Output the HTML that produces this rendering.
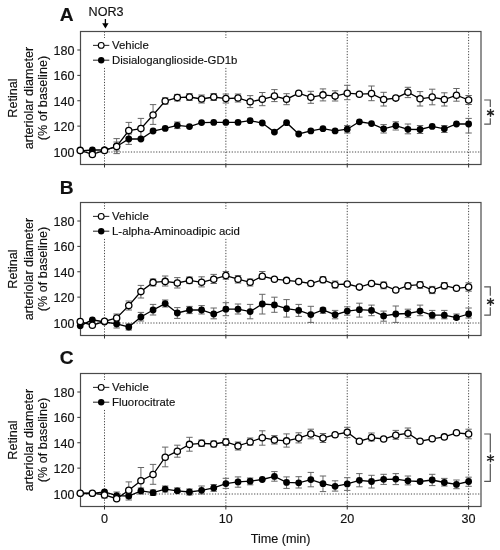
<!DOCTYPE html>
<html><head><meta charset="utf-8"><style>
html,body{margin:0;padding:0;background:#fff;}
svg{display:block;will-change:transform;}
text{font-family:"Liberation Sans",sans-serif;fill:#111;stroke:#111;stroke-width:0.15px;}
.tk{font-size:12.6px;}
.lg{font-size:11.4px;}
.yl{font-size:12.65px;}
.lt{font-size:19.2px;font-weight:bold;}
.ast{font-size:17px;}
</style></head><body>
<svg width="500" height="550" viewBox="0 0 500 550">
<rect x="80.5" y="31.5" width="400.5" height="133" fill="none" stroke="#4a4a4a" stroke-width="1.2"/>
<line x1="104.5" y1="31.5" x2="104.5" y2="164.5" stroke="#444" stroke-width="1" stroke-dasharray="1.2 1.6"/>
<line x1="104.5" y1="164.5" x2="104.5" y2="167.5" stroke="#333" stroke-width="1"/>
<line x1="225.87" y1="31.5" x2="225.87" y2="164.5" stroke="#444" stroke-width="1" stroke-dasharray="1.2 1.6"/>
<line x1="225.87" y1="164.5" x2="225.87" y2="167.5" stroke="#333" stroke-width="1"/>
<line x1="347.24" y1="31.5" x2="347.24" y2="164.5" stroke="#444" stroke-width="1" stroke-dasharray="1.2 1.6"/>
<line x1="347.24" y1="164.5" x2="347.24" y2="167.5" stroke="#333" stroke-width="1"/>
<line x1="468.61" y1="31.5" x2="468.61" y2="164.5" stroke="#444" stroke-width="1" stroke-dasharray="1.2 1.6"/>
<line x1="468.61" y1="164.5" x2="468.61" y2="167.5" stroke="#333" stroke-width="1"/>
<line x1="80.5" y1="152" x2="481" y2="152" stroke="#444" stroke-width="1" stroke-dasharray="1.2 1.6"/>
<rect x="90" y="38" width="151" height="29.5" fill="#fff"/>
<line x1="77.3" y1="151.5" x2="80.5" y2="151.5" stroke="#333" stroke-width="1"/>
<text x="74.6" y="156.6" text-anchor="end" class="tk">100</text>
<line x1="77.3" y1="126.12" x2="80.5" y2="126.12" stroke="#333" stroke-width="1"/>
<text x="74.6" y="131.22" text-anchor="end" class="tk">120</text>
<line x1="77.3" y1="100.75" x2="80.5" y2="100.75" stroke="#333" stroke-width="1"/>
<text x="74.6" y="105.85" text-anchor="end" class="tk">140</text>
<line x1="77.3" y1="75.38" x2="80.5" y2="75.38" stroke="#333" stroke-width="1"/>
<text x="74.6" y="80.47" text-anchor="end" class="tk">160</text>
<line x1="77.3" y1="50" x2="80.5" y2="50" stroke="#333" stroke-width="1"/>
<text x="74.6" y="55.1" text-anchor="end" class="tk">180</text>
<path d="M116.64 142V151M113.44 142H119.84M113.44 151H119.84M128.77 134V144.4M125.57 134H131.97M125.57 144.4H131.97M177.32 122V128.6M174.12 122H180.52M174.12 128.6H180.52M347.24 125.6V133M344.04 125.6H350.44M344.04 133H350.44M383.65 124.6V133M380.45 124.6H386.85M380.45 133H386.85M395.79 121.8V130M392.59 121.8H398.99M392.59 130H398.99M407.93 124V133.8M404.73 124H411.12M404.73 133.8H411.12M420.06 125.5V133.5M416.86 125.5H423.26M416.86 133.5H423.26M444.34 125.5V132.5M441.14 125.5H447.54M441.14 132.5H447.54M468.61 118.4V133M465.41 118.4H471.81M465.41 133H471.81M116.64 138.6V153.6M113.44 138.6H119.84M113.44 153.6H119.84M128.77 122.4V138M125.57 122.4H131.97M125.57 138H131.97M140.91 118.4V138M137.71 118.4H144.11M137.71 138H144.11M153.05 104.6V124.4M149.85 104.6H156.25M149.85 124.4H156.25M165.19 97.8V104.2M161.99 97.8H168.38M161.99 104.2H168.38M177.32 94.4V101M174.12 94.4H180.52M174.12 101H180.52M189.46 93.6V100.5M186.26 93.6H192.66M186.26 100.5H192.66M201.6 95V103M198.4 95H204.8M198.4 103H204.8M213.73 93.6V100.5M210.53 93.6H216.93M210.53 100.5H216.93M225.87 94V103M222.67 94H229.07M222.67 103H229.07M238.01 94V102M234.81 94H241.21M234.81 102H241.21M250.14 95.6V107.6M246.94 95.6H253.34M246.94 107.6H253.34M262.28 92.5V105.7M259.08 92.5H265.48M259.08 105.7H265.48M274.42 89.6V101.6M271.22 89.6H277.62M271.22 101.6H277.62M286.56 93.7V104.7M283.36 93.7H289.75M283.36 104.7H289.75M310.83 91.3V103.3M307.63 91.3H314.03M307.63 103.3H314.03M322.97 88.9V100.9M319.77 88.9H326.17M319.77 100.9H326.17M335.1 90.8V101M331.9 90.8H338.3M331.9 101H338.3M347.24 85.3V99.7M344.04 85.3H350.44M344.04 99.7H350.44M371.51 86V100.7M368.31 86H374.71M368.31 100.7H374.71M383.65 92.3V106M380.45 92.3H386.85M380.45 106H386.85M407.93 87.3V97.6M404.73 87.3H411.12M404.73 97.6H411.12M420.06 91.6V106M416.86 91.6H423.26M416.86 106H423.26M432.2 89.2V104.8M429 89.2H435.4M429 104.8H435.4M444.34 92.8V106M441.14 92.8H447.54M441.14 106H447.54M456.47 88.5V101.2M453.27 88.5H459.67M453.27 101.2H459.67M468.61 95.5V104.5M465.41 95.5H471.81M465.41 104.5H471.81" stroke="#666" stroke-width="1" fill="none"/>
<polyline points="80.23,150.8 92.36,150 104.5,150 116.64,146.5 128.77,139 140.91,139 153.05,131 165.19,128.4 177.32,125.3 189.46,126.6 201.6,122.6 213.73,122.4 225.87,122.4 238.01,122.4 250.14,120.7 262.28,123 274.42,132.1 286.56,122.7 298.69,134 310.83,130.9 322.97,128.7 335.1,130.9 347.24,129.2 359.38,121.8 371.51,123.6 383.65,128.8 395.79,125.7 407.93,129.3 420.06,129.5 432.2,126.4 444.34,128.8 456.47,124 468.61,124" fill="none" stroke="#000" stroke-width="1.3"/>
<polyline points="80.23,150.4 92.36,154.4 104.5,150.4 116.64,146.4 128.77,130.6 140.91,128.6 153.05,115 165.19,101 177.32,97.6 189.46,97 201.6,99 213.73,97 225.87,98.6 238.01,98 250.14,101.8 262.28,99.3 274.42,96.1 286.56,99.2 298.69,93.2 310.83,97.3 322.97,94.9 335.1,96.1 347.24,93.2 359.38,94.2 371.51,93.6 383.65,99.5 395.79,98.1 407.93,92.3 420.06,98.8 432.2,97.1 444.34,99.5 456.47,95.2 468.61,100" fill="none" stroke="#000" stroke-width="1.3"/>
<circle cx="80.23" cy="150.8" r="3.4" fill="#000"/>
<circle cx="92.36" cy="150" r="3.4" fill="#000"/>
<circle cx="104.5" cy="150" r="3.4" fill="#000"/>
<circle cx="116.64" cy="146.5" r="3.4" fill="#000"/>
<circle cx="128.77" cy="139" r="3.4" fill="#000"/>
<circle cx="140.91" cy="139" r="3.4" fill="#000"/>
<circle cx="153.05" cy="131" r="3.4" fill="#000"/>
<circle cx="165.19" cy="128.4" r="3.4" fill="#000"/>
<circle cx="177.32" cy="125.3" r="3.4" fill="#000"/>
<circle cx="189.46" cy="126.6" r="3.4" fill="#000"/>
<circle cx="201.6" cy="122.6" r="3.4" fill="#000"/>
<circle cx="213.73" cy="122.4" r="3.4" fill="#000"/>
<circle cx="225.87" cy="122.4" r="3.4" fill="#000"/>
<circle cx="238.01" cy="122.4" r="3.4" fill="#000"/>
<circle cx="250.14" cy="120.7" r="3.4" fill="#000"/>
<circle cx="262.28" cy="123" r="3.4" fill="#000"/>
<circle cx="274.42" cy="132.1" r="3.4" fill="#000"/>
<circle cx="286.56" cy="122.7" r="3.4" fill="#000"/>
<circle cx="298.69" cy="134" r="3.4" fill="#000"/>
<circle cx="310.83" cy="130.9" r="3.4" fill="#000"/>
<circle cx="322.97" cy="128.7" r="3.4" fill="#000"/>
<circle cx="335.1" cy="130.9" r="3.4" fill="#000"/>
<circle cx="347.24" cy="129.2" r="3.4" fill="#000"/>
<circle cx="359.38" cy="121.8" r="3.4" fill="#000"/>
<circle cx="371.51" cy="123.6" r="3.4" fill="#000"/>
<circle cx="383.65" cy="128.8" r="3.4" fill="#000"/>
<circle cx="395.79" cy="125.7" r="3.4" fill="#000"/>
<circle cx="407.93" cy="129.3" r="3.4" fill="#000"/>
<circle cx="420.06" cy="129.5" r="3.4" fill="#000"/>
<circle cx="432.2" cy="126.4" r="3.4" fill="#000"/>
<circle cx="444.34" cy="128.8" r="3.4" fill="#000"/>
<circle cx="456.47" cy="124" r="3.4" fill="#000"/>
<circle cx="468.61" cy="124" r="3.4" fill="#000"/>
<circle cx="80.23" cy="150.4" r="3.15" fill="#fff" stroke="#000" stroke-width="1.3"/>
<circle cx="92.36" cy="154.4" r="3.15" fill="#fff" stroke="#000" stroke-width="1.3"/>
<circle cx="104.5" cy="150.4" r="3.15" fill="#fff" stroke="#000" stroke-width="1.3"/>
<circle cx="116.64" cy="146.4" r="3.15" fill="#fff" stroke="#000" stroke-width="1.3"/>
<circle cx="128.77" cy="130.6" r="3.15" fill="#fff" stroke="#000" stroke-width="1.3"/>
<circle cx="140.91" cy="128.6" r="3.15" fill="#fff" stroke="#000" stroke-width="1.3"/>
<circle cx="153.05" cy="115" r="3.15" fill="#fff" stroke="#000" stroke-width="1.3"/>
<circle cx="165.19" cy="101" r="3.15" fill="#fff" stroke="#000" stroke-width="1.3"/>
<circle cx="177.32" cy="97.6" r="3.15" fill="#fff" stroke="#000" stroke-width="1.3"/>
<circle cx="189.46" cy="97" r="3.15" fill="#fff" stroke="#000" stroke-width="1.3"/>
<circle cx="201.6" cy="99" r="3.15" fill="#fff" stroke="#000" stroke-width="1.3"/>
<circle cx="213.73" cy="97" r="3.15" fill="#fff" stroke="#000" stroke-width="1.3"/>
<circle cx="225.87" cy="98.6" r="3.15" fill="#fff" stroke="#000" stroke-width="1.3"/>
<circle cx="238.01" cy="98" r="3.15" fill="#fff" stroke="#000" stroke-width="1.3"/>
<circle cx="250.14" cy="101.8" r="3.15" fill="#fff" stroke="#000" stroke-width="1.3"/>
<circle cx="262.28" cy="99.3" r="3.15" fill="#fff" stroke="#000" stroke-width="1.3"/>
<circle cx="274.42" cy="96.1" r="3.15" fill="#fff" stroke="#000" stroke-width="1.3"/>
<circle cx="286.56" cy="99.2" r="3.15" fill="#fff" stroke="#000" stroke-width="1.3"/>
<circle cx="298.69" cy="93.2" r="3.15" fill="#fff" stroke="#000" stroke-width="1.3"/>
<circle cx="310.83" cy="97.3" r="3.15" fill="#fff" stroke="#000" stroke-width="1.3"/>
<circle cx="322.97" cy="94.9" r="3.15" fill="#fff" stroke="#000" stroke-width="1.3"/>
<circle cx="335.1" cy="96.1" r="3.15" fill="#fff" stroke="#000" stroke-width="1.3"/>
<circle cx="347.24" cy="93.2" r="3.15" fill="#fff" stroke="#000" stroke-width="1.3"/>
<circle cx="359.38" cy="94.2" r="3.15" fill="#fff" stroke="#000" stroke-width="1.3"/>
<circle cx="371.51" cy="93.6" r="3.15" fill="#fff" stroke="#000" stroke-width="1.3"/>
<circle cx="383.65" cy="99.5" r="3.15" fill="#fff" stroke="#000" stroke-width="1.3"/>
<circle cx="395.79" cy="98.1" r="3.15" fill="#fff" stroke="#000" stroke-width="1.3"/>
<circle cx="407.93" cy="92.3" r="3.15" fill="#fff" stroke="#000" stroke-width="1.3"/>
<circle cx="420.06" cy="98.8" r="3.15" fill="#fff" stroke="#000" stroke-width="1.3"/>
<circle cx="432.2" cy="97.1" r="3.15" fill="#fff" stroke="#000" stroke-width="1.3"/>
<circle cx="444.34" cy="99.5" r="3.15" fill="#fff" stroke="#000" stroke-width="1.3"/>
<circle cx="456.47" cy="95.2" r="3.15" fill="#fff" stroke="#000" stroke-width="1.3"/>
<circle cx="468.61" cy="100" r="3.15" fill="#fff" stroke="#000" stroke-width="1.3"/>
<line x1="93" y1="45.4" x2="109.3" y2="45.4" stroke="#333" stroke-width="1.1"/>
<circle cx="101.2" cy="45.4" r="2.9" fill="#fff" stroke="#000" stroke-width="1.1"/>
<text x="112" y="48.8" class="lg">Vehicle</text>
<line x1="93" y1="60.2" x2="109.3" y2="60.2" stroke="#333" stroke-width="1.1"/>
<circle cx="101.2" cy="60.2" r="3.2" fill="#000"/>
<text x="112" y="63.6" class="lg">Disialoganglioside-GD1b</text>
<text x="59.8" y="21" class="lt">A</text>
<text transform="translate(17.3 98) rotate(-90)" text-anchor="middle" class="yl">Retinal</text>
<text transform="translate(33.3 98) rotate(-90)" text-anchor="middle" class="yl">arteriolar diameter</text>
<text transform="translate(46.8 98) rotate(-90)" text-anchor="middle" class="yl">(% of baseline)</text>
<path d="M484.2 100H490.3V106.9M490.3 118.3V124.2H484.2" fill="none" stroke="#555" stroke-width="1.2"/>
<path d="M490.5 109.4L490.5 116.2M487.56 111.1L493.44 114.5M493.44 111.1L487.56 114.5" stroke="#222" stroke-width="1.45" stroke-linecap="round" fill="none"/>
<rect x="80.5" y="202.5" width="400.5" height="133" fill="none" stroke="#4a4a4a" stroke-width="1.2"/>
<line x1="104.5" y1="202.5" x2="104.5" y2="335.5" stroke="#444" stroke-width="1" stroke-dasharray="1.2 1.6"/>
<line x1="104.5" y1="335.5" x2="104.5" y2="338.5" stroke="#333" stroke-width="1"/>
<line x1="225.87" y1="202.5" x2="225.87" y2="335.5" stroke="#444" stroke-width="1" stroke-dasharray="1.2 1.6"/>
<line x1="225.87" y1="335.5" x2="225.87" y2="338.5" stroke="#333" stroke-width="1"/>
<line x1="347.24" y1="202.5" x2="347.24" y2="335.5" stroke="#444" stroke-width="1" stroke-dasharray="1.2 1.6"/>
<line x1="347.24" y1="335.5" x2="347.24" y2="338.5" stroke="#333" stroke-width="1"/>
<line x1="468.61" y1="202.5" x2="468.61" y2="335.5" stroke="#444" stroke-width="1" stroke-dasharray="1.2 1.6"/>
<line x1="468.61" y1="335.5" x2="468.61" y2="338.5" stroke="#333" stroke-width="1"/>
<line x1="80.5" y1="323" x2="481" y2="323" stroke="#444" stroke-width="1" stroke-dasharray="1.2 1.6"/>
<rect x="90" y="209" width="153" height="29.5" fill="#fff"/>
<line x1="77.3" y1="322.5" x2="80.5" y2="322.5" stroke="#333" stroke-width="1"/>
<text x="74.6" y="327.6" text-anchor="end" class="tk">100</text>
<line x1="77.3" y1="297.12" x2="80.5" y2="297.12" stroke="#333" stroke-width="1"/>
<text x="74.6" y="302.23" text-anchor="end" class="tk">120</text>
<line x1="77.3" y1="271.75" x2="80.5" y2="271.75" stroke="#333" stroke-width="1"/>
<text x="74.6" y="276.85" text-anchor="end" class="tk">140</text>
<line x1="77.3" y1="246.38" x2="80.5" y2="246.38" stroke="#333" stroke-width="1"/>
<text x="74.6" y="251.47" text-anchor="end" class="tk">160</text>
<line x1="77.3" y1="221" x2="80.5" y2="221" stroke="#333" stroke-width="1"/>
<text x="74.6" y="226.1" text-anchor="end" class="tk">180</text>
<path d="M116.64 320V328M113.44 320H119.84M113.44 328H119.84M128.77 324V330M125.57 324H131.97M125.57 330H131.97M140.91 312.4V321M137.71 312.4H144.11M137.71 321H144.11M153.05 304.4V315M149.85 304.4H156.25M149.85 315H156.25M165.19 300V307M161.99 300H168.38M161.99 307H168.38M177.32 307.6V318.4M174.12 307.6H180.52M174.12 318.4H180.52M189.46 306.4V313.6M186.26 306.4H192.66M186.26 313.6H192.66M201.6 305.6V314M198.4 305.6H204.8M198.4 314H204.8M213.73 308V318.8M210.53 308H216.93M210.53 318.8H216.93M225.87 302.7V315.7M222.67 302.7H229.07M222.67 315.7H229.07M238.01 304V314M234.81 304H241.21M234.81 314H241.21M250.14 304.4V318.8M246.94 304.4H253.34M246.94 318.8H253.34M262.28 294.3V314M259.08 294.3H265.48M259.08 314H265.48M274.42 297.2V312.3M271.22 297.2H277.62M271.22 312.3H277.62M286.56 299.6V317.1M283.36 299.6H289.75M283.36 317.1H289.75M298.69 304.4V316.4M295.49 304.4H301.89M295.49 316.4H301.89M310.83 306.3V322.4M307.63 306.3H314.03M307.63 322.4H314.03M322.97 308V313.3M319.77 308H326.17M319.77 313.3H326.17M335.1 310.4V318.8M331.9 310.4H338.3M331.9 318.8H338.3M347.24 306.8V315.2M344.04 306.8H350.44M344.04 315.2H350.44M359.38 303.2V317.1M356.18 303.2H362.58M356.18 317.1H362.58M371.51 305.1V315.7M368.31 305.1H374.71M368.31 315.7H374.71M383.65 311.1V321.2M380.45 311.1H386.85M380.45 321.2H386.85M395.79 306V322.4M392.59 306H398.99M392.59 322.4H398.99M407.93 309.2V317.6M404.73 309.2H411.12M404.73 317.6H411.12M420.06 305.1V315.7M416.86 305.1H423.26M416.86 315.7H423.26M432.2 310.4V318.8M429 310.4H435.4M429 318.8H435.4M444.34 310.4V318.8M441.14 310.4H447.54M441.14 318.8H447.54M456.47 314V319.5M453.27 314H459.67M453.27 319.5H459.67M468.61 308V318M465.41 308H471.81M465.41 318H471.81M116.64 314V322M113.44 314H119.84M113.44 322H119.84M128.77 301V310M125.57 301H131.97M125.57 310H131.97M140.91 285.4V298M137.71 285.4H144.11M137.71 298H144.11M153.05 279V286M149.85 279H156.25M149.85 286H156.25M165.19 276V286M161.99 276H168.38M161.99 286H168.38M177.32 277.6V288M174.12 277.6H180.52M174.12 288H180.52M189.46 277V283.6M186.26 277H192.66M186.26 283.6H192.66M201.6 276.8V286.9M198.4 276.8H204.8M198.4 286.9H204.8M213.73 274.4V283.5M210.53 274.4H216.93M210.53 283.5H216.93M225.87 271.5V279.2M222.67 271.5H229.07M222.67 279.2H229.07M238.01 275.6V283M234.81 275.6H241.21M234.81 283H241.21M250.14 279V286M246.94 279H253.34M246.94 286H253.34M262.28 271.5V279.2M259.08 271.5H265.48M259.08 279.2H265.48M322.97 276.8V282.8M319.77 276.8H326.17M319.77 282.8H326.17M335.1 281V288M331.9 281H338.3M331.9 288H338.3M383.65 282V288.8M380.45 282H386.85M380.45 288.8H386.85M407.93 282.8V289.3M404.73 282.8H411.12M404.73 289.3H411.12M420.06 281.6V288.3M416.86 281.6H423.26M416.86 288.3H423.26M432.2 286.4V293.6M429 286.4H435.4M429 293.6H435.4M444.34 282.5V289M441.14 282.5H447.54M441.14 289H447.54M468.61 282.8V291.2M465.41 282.8H471.81M465.41 291.2H471.81" stroke="#666" stroke-width="1" fill="none"/>
<polyline points="80.23,325.8 92.36,319.8 104.5,322 116.64,323.9 128.77,327 140.91,317 153.05,310 165.19,303.6 177.32,313 189.46,310 201.6,310 213.73,314 225.87,309.2 238.01,309.2 250.14,311.6 262.28,304 274.42,304.9 286.56,308.7 298.69,310.4 310.83,314.6 322.97,310 335.1,314.7 347.24,311.1 359.38,309.7 371.51,310.4 383.65,315.9 395.79,314 407.93,313.5 420.06,311.1 432.2,315.2 444.34,315.2 456.47,317.6 468.61,314" fill="none" stroke="#000" stroke-width="1.3"/>
<polyline points="80.23,321.6 92.36,325.2 104.5,321.3 116.64,318 128.77,305.6 140.91,291.6 153.05,282.4 165.19,281.4 177.32,283 189.46,280.4 201.6,282.3 213.73,279.2 225.87,275.6 238.01,279.2 250.14,282.3 262.28,276.3 274.42,279.2 286.56,280.4 298.69,281.6 310.83,283.5 322.97,279.7 335.1,284.7 347.24,284 359.38,287.1 371.51,283.5 383.65,285.2 395.79,290 407.93,285.7 420.06,284.7 432.2,290 444.34,285.7 456.47,288.3 468.61,287.1" fill="none" stroke="#000" stroke-width="1.3"/>
<circle cx="80.23" cy="325.8" r="3.4" fill="#000"/>
<circle cx="92.36" cy="319.8" r="3.4" fill="#000"/>
<circle cx="104.5" cy="322" r="3.4" fill="#000"/>
<circle cx="116.64" cy="323.9" r="3.4" fill="#000"/>
<circle cx="128.77" cy="327" r="3.4" fill="#000"/>
<circle cx="140.91" cy="317" r="3.4" fill="#000"/>
<circle cx="153.05" cy="310" r="3.4" fill="#000"/>
<circle cx="165.19" cy="303.6" r="3.4" fill="#000"/>
<circle cx="177.32" cy="313" r="3.4" fill="#000"/>
<circle cx="189.46" cy="310" r="3.4" fill="#000"/>
<circle cx="201.6" cy="310" r="3.4" fill="#000"/>
<circle cx="213.73" cy="314" r="3.4" fill="#000"/>
<circle cx="225.87" cy="309.2" r="3.4" fill="#000"/>
<circle cx="238.01" cy="309.2" r="3.4" fill="#000"/>
<circle cx="250.14" cy="311.6" r="3.4" fill="#000"/>
<circle cx="262.28" cy="304" r="3.4" fill="#000"/>
<circle cx="274.42" cy="304.9" r="3.4" fill="#000"/>
<circle cx="286.56" cy="308.7" r="3.4" fill="#000"/>
<circle cx="298.69" cy="310.4" r="3.4" fill="#000"/>
<circle cx="310.83" cy="314.6" r="3.4" fill="#000"/>
<circle cx="322.97" cy="310" r="3.4" fill="#000"/>
<circle cx="335.1" cy="314.7" r="3.4" fill="#000"/>
<circle cx="347.24" cy="311.1" r="3.4" fill="#000"/>
<circle cx="359.38" cy="309.7" r="3.4" fill="#000"/>
<circle cx="371.51" cy="310.4" r="3.4" fill="#000"/>
<circle cx="383.65" cy="315.9" r="3.4" fill="#000"/>
<circle cx="395.79" cy="314" r="3.4" fill="#000"/>
<circle cx="407.93" cy="313.5" r="3.4" fill="#000"/>
<circle cx="420.06" cy="311.1" r="3.4" fill="#000"/>
<circle cx="432.2" cy="315.2" r="3.4" fill="#000"/>
<circle cx="444.34" cy="315.2" r="3.4" fill="#000"/>
<circle cx="456.47" cy="317.6" r="3.4" fill="#000"/>
<circle cx="468.61" cy="314" r="3.4" fill="#000"/>
<circle cx="80.23" cy="321.6" r="3.15" fill="#fff" stroke="#000" stroke-width="1.3"/>
<circle cx="92.36" cy="325.2" r="3.15" fill="#fff" stroke="#000" stroke-width="1.3"/>
<circle cx="104.5" cy="321.3" r="3.15" fill="#fff" stroke="#000" stroke-width="1.3"/>
<circle cx="116.64" cy="318" r="3.15" fill="#fff" stroke="#000" stroke-width="1.3"/>
<circle cx="128.77" cy="305.6" r="3.15" fill="#fff" stroke="#000" stroke-width="1.3"/>
<circle cx="140.91" cy="291.6" r="3.15" fill="#fff" stroke="#000" stroke-width="1.3"/>
<circle cx="153.05" cy="282.4" r="3.15" fill="#fff" stroke="#000" stroke-width="1.3"/>
<circle cx="165.19" cy="281.4" r="3.15" fill="#fff" stroke="#000" stroke-width="1.3"/>
<circle cx="177.32" cy="283" r="3.15" fill="#fff" stroke="#000" stroke-width="1.3"/>
<circle cx="189.46" cy="280.4" r="3.15" fill="#fff" stroke="#000" stroke-width="1.3"/>
<circle cx="201.6" cy="282.3" r="3.15" fill="#fff" stroke="#000" stroke-width="1.3"/>
<circle cx="213.73" cy="279.2" r="3.15" fill="#fff" stroke="#000" stroke-width="1.3"/>
<circle cx="225.87" cy="275.6" r="3.15" fill="#fff" stroke="#000" stroke-width="1.3"/>
<circle cx="238.01" cy="279.2" r="3.15" fill="#fff" stroke="#000" stroke-width="1.3"/>
<circle cx="250.14" cy="282.3" r="3.15" fill="#fff" stroke="#000" stroke-width="1.3"/>
<circle cx="262.28" cy="276.3" r="3.15" fill="#fff" stroke="#000" stroke-width="1.3"/>
<circle cx="274.42" cy="279.2" r="3.15" fill="#fff" stroke="#000" stroke-width="1.3"/>
<circle cx="286.56" cy="280.4" r="3.15" fill="#fff" stroke="#000" stroke-width="1.3"/>
<circle cx="298.69" cy="281.6" r="3.15" fill="#fff" stroke="#000" stroke-width="1.3"/>
<circle cx="310.83" cy="283.5" r="3.15" fill="#fff" stroke="#000" stroke-width="1.3"/>
<circle cx="322.97" cy="279.7" r="3.15" fill="#fff" stroke="#000" stroke-width="1.3"/>
<circle cx="335.1" cy="284.7" r="3.15" fill="#fff" stroke="#000" stroke-width="1.3"/>
<circle cx="347.24" cy="284" r="3.15" fill="#fff" stroke="#000" stroke-width="1.3"/>
<circle cx="359.38" cy="287.1" r="3.15" fill="#fff" stroke="#000" stroke-width="1.3"/>
<circle cx="371.51" cy="283.5" r="3.15" fill="#fff" stroke="#000" stroke-width="1.3"/>
<circle cx="383.65" cy="285.2" r="3.15" fill="#fff" stroke="#000" stroke-width="1.3"/>
<circle cx="395.79" cy="290" r="3.15" fill="#fff" stroke="#000" stroke-width="1.3"/>
<circle cx="407.93" cy="285.7" r="3.15" fill="#fff" stroke="#000" stroke-width="1.3"/>
<circle cx="420.06" cy="284.7" r="3.15" fill="#fff" stroke="#000" stroke-width="1.3"/>
<circle cx="432.2" cy="290" r="3.15" fill="#fff" stroke="#000" stroke-width="1.3"/>
<circle cx="444.34" cy="285.7" r="3.15" fill="#fff" stroke="#000" stroke-width="1.3"/>
<circle cx="456.47" cy="288.3" r="3.15" fill="#fff" stroke="#000" stroke-width="1.3"/>
<circle cx="468.61" cy="287.1" r="3.15" fill="#fff" stroke="#000" stroke-width="1.3"/>
<line x1="93" y1="216.4" x2="109.3" y2="216.4" stroke="#333" stroke-width="1.1"/>
<circle cx="101.2" cy="216.4" r="2.9" fill="#fff" stroke="#000" stroke-width="1.1"/>
<text x="112" y="219.8" class="lg">Vehicle</text>
<line x1="93" y1="231.2" x2="109.3" y2="231.2" stroke="#333" stroke-width="1.1"/>
<circle cx="101.2" cy="231.2" r="3.2" fill="#000"/>
<text x="112" y="234.6" class="lg">L-alpha-Aminoadipic acid</text>
<text x="59.8" y="193.5" class="lt">B</text>
<text transform="translate(17.3 269) rotate(-90)" text-anchor="middle" class="yl">Retinal</text>
<text transform="translate(33.3 269) rotate(-90)" text-anchor="middle" class="yl">arteriolar diameter</text>
<text transform="translate(46.8 269) rotate(-90)" text-anchor="middle" class="yl">(% of baseline)</text>
<path d="M484.2 286.9H490.3V295.85M490.3 307.25V315.2H484.2" fill="none" stroke="#555" stroke-width="1.2"/>
<path d="M490.5 298.35L490.5 305.15M487.56 300.05L493.44 303.45M493.44 300.05L487.56 303.45" stroke="#222" stroke-width="1.45" stroke-linecap="round" fill="none"/>
<rect x="80.5" y="373.5" width="400.5" height="133" fill="none" stroke="#4a4a4a" stroke-width="1.2"/>
<line x1="104.5" y1="373.5" x2="104.5" y2="506.5" stroke="#444" stroke-width="1" stroke-dasharray="1.2 1.6"/>
<line x1="104.5" y1="506.5" x2="104.5" y2="509.5" stroke="#333" stroke-width="1"/>
<line x1="225.87" y1="373.5" x2="225.87" y2="506.5" stroke="#444" stroke-width="1" stroke-dasharray="1.2 1.6"/>
<line x1="225.87" y1="506.5" x2="225.87" y2="509.5" stroke="#333" stroke-width="1"/>
<line x1="347.24" y1="373.5" x2="347.24" y2="506.5" stroke="#444" stroke-width="1" stroke-dasharray="1.2 1.6"/>
<line x1="347.24" y1="506.5" x2="347.24" y2="509.5" stroke="#333" stroke-width="1"/>
<line x1="468.61" y1="373.5" x2="468.61" y2="506.5" stroke="#444" stroke-width="1" stroke-dasharray="1.2 1.6"/>
<line x1="468.61" y1="506.5" x2="468.61" y2="509.5" stroke="#333" stroke-width="1"/>
<line x1="80.5" y1="494" x2="481" y2="494" stroke="#444" stroke-width="1" stroke-dasharray="1.2 1.6"/>
<rect x="90" y="380" width="86" height="29.5" fill="#fff"/>
<line x1="77.3" y1="493.5" x2="80.5" y2="493.5" stroke="#333" stroke-width="1"/>
<text x="74.6" y="498.6" text-anchor="end" class="tk">100</text>
<line x1="77.3" y1="468.12" x2="80.5" y2="468.12" stroke="#333" stroke-width="1"/>
<text x="74.6" y="473.23" text-anchor="end" class="tk">120</text>
<line x1="77.3" y1="442.75" x2="80.5" y2="442.75" stroke="#333" stroke-width="1"/>
<text x="74.6" y="447.85" text-anchor="end" class="tk">140</text>
<line x1="77.3" y1="417.38" x2="80.5" y2="417.38" stroke="#333" stroke-width="1"/>
<text x="74.6" y="422.48" text-anchor="end" class="tk">160</text>
<line x1="77.3" y1="392" x2="80.5" y2="392" stroke="#333" stroke-width="1"/>
<text x="74.6" y="397.1" text-anchor="end" class="tk">180</text>
<path d="M116.64 492V499M113.44 492H119.84M113.44 499H119.84M128.77 492V500M125.57 492H131.97M125.57 500H131.97M140.91 488V494M137.71 488H144.11M137.71 494H144.11M153.05 490V495.5M149.85 490H156.25M149.85 495.5H156.25M165.19 486V492M161.99 486H168.38M161.99 492H168.38M177.32 487.9V492.5M174.12 487.9H180.52M174.12 492.5H180.52M189.46 489V495M186.26 489H192.66M186.26 495H192.66M201.6 486V494M198.4 486H204.8M198.4 494H204.8M213.73 484.5V491.3M210.53 484.5H216.93M210.53 491.3H216.93M225.87 478.3V488.4M222.67 478.3H229.07M222.67 488.4H229.07M238.01 476.9V487.2M234.81 476.9H241.21M234.81 487.2H241.21M250.14 478V484.8M246.94 478H253.34M246.94 484.8H253.34M274.42 471.6V481.2M271.22 471.6H277.62M271.22 481.2H277.62M286.56 476.9V488.4M283.36 476.9H289.75M283.36 488.4H289.75M298.69 476.7V488M295.49 476.7H301.89M295.49 488H301.89M310.83 472.4V486.8M307.63 472.4H314.03M307.63 486.8H314.03M322.97 476V491.6M319.77 476H326.17M319.77 491.6H326.17M335.1 480.8V491.1M331.9 480.8H338.3M331.9 491.1H338.3M347.24 477.7V490.4M344.04 477.7H350.44M344.04 490.4H350.44M359.38 473.6V486.8M356.18 473.6H362.58M356.18 486.8H362.58M371.51 475.3V488M368.31 475.3H374.71M368.31 488H374.71M383.65 474.3V484.4M380.45 474.3H386.85M380.45 484.4H386.85M395.79 473.6V484.6M392.59 473.6H398.99M392.59 484.6H398.99M407.93 476V484.9M404.73 476H411.12M404.73 484.9H411.12M432.2 474.3V485.6M429 474.3H435.4M429 485.6H435.4M444.34 478.4V486M441.14 478.4H447.54M441.14 486H447.54M456.47 480V488.7M453.27 480H459.67M453.27 488.7H459.67M468.61 477.2V486.3M465.41 477.2H471.81M465.41 486.3H471.81M104.5 491V498M101.3 491H107.7M101.3 498H107.7M128.77 481.9V498M125.57 481.9H131.97M125.57 498H131.97M140.91 467.5V493M137.71 467.5H144.11M137.71 493H144.11M153.05 464.4V484.3M149.85 464.4H156.25M149.85 484.3H156.25M165.19 447.1V466.8M161.99 447.1H168.38M161.99 466.8H168.38M177.32 445.2V457.2M174.12 445.2H180.52M174.12 457.2H180.52M189.46 437.3V451.2M186.26 437.3H192.66M186.26 451.2H192.66M201.6 440V446.5M198.4 440H204.8M198.4 446.5H204.8M213.73 441V447M210.53 441H216.93M210.53 447H216.93M225.87 438.5V445.5M222.67 438.5H229.07M222.67 445.5H229.07M238.01 442V450M234.81 442H241.21M234.81 450H241.21M250.14 438V445.2M246.94 438H253.34M246.94 445.2H253.34M262.28 430.8V445.2M259.08 430.8H265.48M259.08 445.2H265.48M274.42 435.6V444M271.22 435.6H277.62M271.22 444H277.62M286.56 433.9V447.1M283.36 433.9H289.75M283.36 447.1H289.75M298.69 432.8V442.9M295.49 432.8H301.89M295.49 442.9H301.89M310.83 429.2V438.8M307.63 429.2H314.03M307.63 438.8H314.03M322.97 433.5V442.5M319.77 433.5H326.17M319.77 442.5H326.17M347.24 427.3V437.6M344.04 427.3H350.44M344.04 437.6H350.44M371.51 433V441M368.31 433H374.71M368.31 441H374.71M395.79 430.4V439.3M392.59 430.4H398.99M392.59 439.3H398.99M407.93 428V438.3M404.73 428H411.12M404.73 438.3H411.12M468.61 429.2V438.8M465.41 429.2H471.81M465.41 438.8H471.81" stroke="#666" stroke-width="1" fill="none"/>
<polyline points="80.23,493.5 92.36,493.5 104.5,492 116.64,495.6 128.77,496 140.91,490.8 153.05,492.7 165.19,489.1 177.32,490.8 189.46,492 201.6,490.3 213.73,487.9 225.87,483.6 238.01,481.9 250.14,481.2 262.28,479.5 274.42,476.4 286.56,482.4 298.69,482.8 310.83,479.6 322.97,483.7 335.1,486.3 347.24,483.9 359.38,480.3 371.51,481.5 383.65,479.3 395.79,479.1 407.93,480.8 420.06,481.5 432.2,480 444.34,482.5 456.47,484.4 468.61,481.5" fill="none" stroke="#000" stroke-width="1.3"/>
<polyline points="80.23,493.2 92.36,493.2 104.5,494.9 116.64,498.7 128.77,490.3 140.91,480.7 153.05,474.5 165.19,457.2 177.32,451.2 189.46,444.4 201.6,443.3 213.73,444 225.87,442 238.01,445.9 250.14,442 262.28,437.7 274.42,439.9 286.56,440.9 298.69,438.1 310.83,434 322.97,438.1 335.1,434.7 347.24,432.3 359.38,441.2 371.51,437.6 383.65,439 395.79,435.2 407.93,433.3 420.06,441.2 432.2,438.8 444.34,436.9 456.47,432.8 468.61,434" fill="none" stroke="#000" stroke-width="1.3"/>
<circle cx="80.23" cy="493.5" r="3.4" fill="#000"/>
<circle cx="92.36" cy="493.5" r="3.4" fill="#000"/>
<circle cx="104.5" cy="492" r="3.4" fill="#000"/>
<circle cx="116.64" cy="495.6" r="3.4" fill="#000"/>
<circle cx="128.77" cy="496" r="3.4" fill="#000"/>
<circle cx="140.91" cy="490.8" r="3.4" fill="#000"/>
<circle cx="153.05" cy="492.7" r="3.4" fill="#000"/>
<circle cx="165.19" cy="489.1" r="3.4" fill="#000"/>
<circle cx="177.32" cy="490.8" r="3.4" fill="#000"/>
<circle cx="189.46" cy="492" r="3.4" fill="#000"/>
<circle cx="201.6" cy="490.3" r="3.4" fill="#000"/>
<circle cx="213.73" cy="487.9" r="3.4" fill="#000"/>
<circle cx="225.87" cy="483.6" r="3.4" fill="#000"/>
<circle cx="238.01" cy="481.9" r="3.4" fill="#000"/>
<circle cx="250.14" cy="481.2" r="3.4" fill="#000"/>
<circle cx="262.28" cy="479.5" r="3.4" fill="#000"/>
<circle cx="274.42" cy="476.4" r="3.4" fill="#000"/>
<circle cx="286.56" cy="482.4" r="3.4" fill="#000"/>
<circle cx="298.69" cy="482.8" r="3.4" fill="#000"/>
<circle cx="310.83" cy="479.6" r="3.4" fill="#000"/>
<circle cx="322.97" cy="483.7" r="3.4" fill="#000"/>
<circle cx="335.1" cy="486.3" r="3.4" fill="#000"/>
<circle cx="347.24" cy="483.9" r="3.4" fill="#000"/>
<circle cx="359.38" cy="480.3" r="3.4" fill="#000"/>
<circle cx="371.51" cy="481.5" r="3.4" fill="#000"/>
<circle cx="383.65" cy="479.3" r="3.4" fill="#000"/>
<circle cx="395.79" cy="479.1" r="3.4" fill="#000"/>
<circle cx="407.93" cy="480.8" r="3.4" fill="#000"/>
<circle cx="420.06" cy="481.5" r="3.4" fill="#000"/>
<circle cx="432.2" cy="480" r="3.4" fill="#000"/>
<circle cx="444.34" cy="482.5" r="3.4" fill="#000"/>
<circle cx="456.47" cy="484.4" r="3.4" fill="#000"/>
<circle cx="468.61" cy="481.5" r="3.4" fill="#000"/>
<circle cx="80.23" cy="493.2" r="3.15" fill="#fff" stroke="#000" stroke-width="1.3"/>
<circle cx="92.36" cy="493.2" r="3.15" fill="#fff" stroke="#000" stroke-width="1.3"/>
<circle cx="104.5" cy="494.9" r="3.15" fill="#fff" stroke="#000" stroke-width="1.3"/>
<circle cx="116.64" cy="498.7" r="3.15" fill="#fff" stroke="#000" stroke-width="1.3"/>
<circle cx="128.77" cy="490.3" r="3.15" fill="#fff" stroke="#000" stroke-width="1.3"/>
<circle cx="140.91" cy="480.7" r="3.15" fill="#fff" stroke="#000" stroke-width="1.3"/>
<circle cx="153.05" cy="474.5" r="3.15" fill="#fff" stroke="#000" stroke-width="1.3"/>
<circle cx="165.19" cy="457.2" r="3.15" fill="#fff" stroke="#000" stroke-width="1.3"/>
<circle cx="177.32" cy="451.2" r="3.15" fill="#fff" stroke="#000" stroke-width="1.3"/>
<circle cx="189.46" cy="444.4" r="3.15" fill="#fff" stroke="#000" stroke-width="1.3"/>
<circle cx="201.6" cy="443.3" r="3.15" fill="#fff" stroke="#000" stroke-width="1.3"/>
<circle cx="213.73" cy="444" r="3.15" fill="#fff" stroke="#000" stroke-width="1.3"/>
<circle cx="225.87" cy="442" r="3.15" fill="#fff" stroke="#000" stroke-width="1.3"/>
<circle cx="238.01" cy="445.9" r="3.15" fill="#fff" stroke="#000" stroke-width="1.3"/>
<circle cx="250.14" cy="442" r="3.15" fill="#fff" stroke="#000" stroke-width="1.3"/>
<circle cx="262.28" cy="437.7" r="3.15" fill="#fff" stroke="#000" stroke-width="1.3"/>
<circle cx="274.42" cy="439.9" r="3.15" fill="#fff" stroke="#000" stroke-width="1.3"/>
<circle cx="286.56" cy="440.9" r="3.15" fill="#fff" stroke="#000" stroke-width="1.3"/>
<circle cx="298.69" cy="438.1" r="3.15" fill="#fff" stroke="#000" stroke-width="1.3"/>
<circle cx="310.83" cy="434" r="3.15" fill="#fff" stroke="#000" stroke-width="1.3"/>
<circle cx="322.97" cy="438.1" r="3.15" fill="#fff" stroke="#000" stroke-width="1.3"/>
<circle cx="335.1" cy="434.7" r="3.15" fill="#fff" stroke="#000" stroke-width="1.3"/>
<circle cx="347.24" cy="432.3" r="3.15" fill="#fff" stroke="#000" stroke-width="1.3"/>
<circle cx="359.38" cy="441.2" r="3.15" fill="#fff" stroke="#000" stroke-width="1.3"/>
<circle cx="371.51" cy="437.6" r="3.15" fill="#fff" stroke="#000" stroke-width="1.3"/>
<circle cx="383.65" cy="439" r="3.15" fill="#fff" stroke="#000" stroke-width="1.3"/>
<circle cx="395.79" cy="435.2" r="3.15" fill="#fff" stroke="#000" stroke-width="1.3"/>
<circle cx="407.93" cy="433.3" r="3.15" fill="#fff" stroke="#000" stroke-width="1.3"/>
<circle cx="420.06" cy="441.2" r="3.15" fill="#fff" stroke="#000" stroke-width="1.3"/>
<circle cx="432.2" cy="438.8" r="3.15" fill="#fff" stroke="#000" stroke-width="1.3"/>
<circle cx="444.34" cy="436.9" r="3.15" fill="#fff" stroke="#000" stroke-width="1.3"/>
<circle cx="456.47" cy="432.8" r="3.15" fill="#fff" stroke="#000" stroke-width="1.3"/>
<circle cx="468.61" cy="434" r="3.15" fill="#fff" stroke="#000" stroke-width="1.3"/>
<line x1="93" y1="387.4" x2="109.3" y2="387.4" stroke="#333" stroke-width="1.1"/>
<circle cx="101.2" cy="387.4" r="2.9" fill="#fff" stroke="#000" stroke-width="1.1"/>
<text x="112" y="390.8" class="lg">Vehicle</text>
<line x1="93" y1="402.2" x2="109.3" y2="402.2" stroke="#333" stroke-width="1.1"/>
<circle cx="101.2" cy="402.2" r="3.2" fill="#000"/>
<text x="112" y="405.6" class="lg">Fluorocitrate</text>
<text x="59.8" y="363.5" class="lt">C</text>
<text transform="translate(17.3 440) rotate(-90)" text-anchor="middle" class="yl">Retinal</text>
<text transform="translate(33.3 440) rotate(-90)" text-anchor="middle" class="yl">arteriolar diameter</text>
<text transform="translate(46.8 440) rotate(-90)" text-anchor="middle" class="yl">(% of baseline)</text>
<path d="M484.2 434H490.3V452.45M490.3 463.85V481.3H484.2" fill="none" stroke="#555" stroke-width="1.2"/>
<path d="M490.5 454.95L490.5 461.75M487.56 456.65L493.44 460.05M493.44 456.65L487.56 460.05" stroke="#222" stroke-width="1.45" stroke-linecap="round" fill="none"/>
<text x="104.5" y="523.1" text-anchor="middle" class="tk">0</text>
<text x="225.87" y="523.1" text-anchor="middle" class="tk">10</text>
<text x="347.24" y="523.1" text-anchor="middle" class="tk">20</text>
<text x="468.61" y="523.1" text-anchor="middle" class="tk">30</text>
<text x="280.6" y="542.8" text-anchor="middle" class="tk">Time (min)</text>
<text x="88.6" y="16" class="tk">NOR3</text>
<path d="M105.4 19V27" stroke="#000" stroke-width="1.3"/>
<path d="M102.2 23.2L105.4 28.6L108.6 23.2Z" fill="#000"/>
</svg>
</body></html>
